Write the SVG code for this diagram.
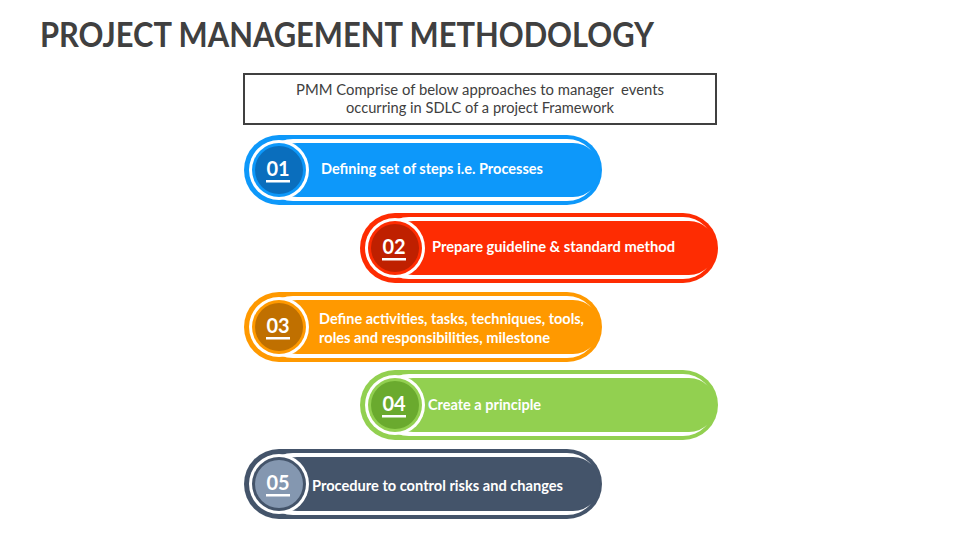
<svg xmlns="http://www.w3.org/2000/svg" width="960" height="540" viewBox="0 0 960 540">
<style>
.title{font-family:Lato,"Open Sans","Liberation Sans",sans-serif;font-weight:700;font-size:35px;fill:#404040}
.intro{font-family:Lato,"Open Sans","Liberation Sans",sans-serif;font-size:14.5px;fill:#404040}
.num{font-family:Lato,"Open Sans","Liberation Sans",sans-serif;font-weight:700;font-size:20px;fill:#fff;text-anchor:middle}
.lbl{font-family:Lato,"Open Sans","Liberation Sans",sans-serif;font-weight:700;font-size:14.5px;fill:#fff}
.w{fill:#fff}
.c1{fill:#0D98FA}.d1{fill:#0A6EBD}
.c2{fill:#FE2C02}.d2{fill:#BF2000}
.c3{fill:#FF9900}.d3{fill:#C07000}
.c4{fill:#92D050}.d4{fill:#6AAA2E}
.c5{fill:#44546A}.d5{fill:#8497B0}
</style>
<rect width="960" height="540" fill="#fff"/>
<text class="title" x="40" y="47" textLength="614" lengthAdjust="spacingAndGlyphs">PROJECT MANAGEMENT METHODOLOGY</text>
<g id="intro">
<rect x="244" y="74" width="472" height="50" fill="#fff" stroke="#404040" stroke-width="2"/>
<text class="intro" x="296" y="95" textLength="368" lengthAdjust="spacingAndGlyphs" xml:space="preserve">PMM Comprise of below approaches to manager  events</text>
<text class="intro" x="346" y="113" textLength="268" lengthAdjust="spacingAndGlyphs">occurring in SDLC of a project Framework</text>
</g>
<g id="connectors"></g>
<g id="step1">
<rect class="c1" x="244" y="135" width="358" height="70" rx="35"/>
<rect class="w" x="262" y="139" width="336" height="62" rx="31"/>
<rect class="c1" x="270" y="143" width="330" height="54" rx="27"/>
<circle class="w" cx="279" cy="170" r="30"/>
<circle class="c1" cx="279" cy="170" r="27"/>
<circle class="d1" cx="279" cy="170" r="24"/>
<text class="num" x="278" y="176">01</text>
<rect class="w" x="266" y="180" width="24" height="2.5"/>
<text class="lbl" x="321" y="174" textLength="222" lengthAdjust="spacingAndGlyphs">Defining set of steps i.e. Processes</text>
</g>
<g id="step2">
<rect class="c2" x="360" y="213" width="358" height="70" rx="35"/>
<rect class="w" x="378" y="217" width="336" height="62" rx="31"/>
<rect class="c2" x="386" y="221" width="330" height="54" rx="27"/>
<circle class="w" cx="395" cy="248" r="30"/>
<circle class="c2" cx="395" cy="248" r="27"/>
<circle class="d2" cx="395" cy="248" r="24"/>
<text class="num" x="394" y="254">02</text>
<rect class="w" x="382" y="258" width="24" height="2.5"/>
<text class="lbl" x="432" y="252" textLength="243" lengthAdjust="spacingAndGlyphs">Prepare guideline &amp; standard method</text>
</g>
<g id="step3">
<rect class="c3" x="244" y="292" width="358" height="70" rx="35"/>
<rect class="w" x="262" y="296" width="336" height="62" rx="31"/>
<rect class="c3" x="270" y="300" width="330" height="54" rx="27"/>
<circle class="w" cx="279" cy="327" r="30"/>
<circle class="c3" cx="279" cy="327" r="27"/>
<circle class="d3" cx="279" cy="327" r="24"/>
<text class="num" x="278" y="333">03</text>
<rect class="w" x="266" y="337" width="24" height="2.5"/>
<text class="lbl" x="319" y="324" textLength="265" lengthAdjust="spacingAndGlyphs">Define activities, tasks, techniques, tools,</text>
<text class="lbl" x="319" y="343" textLength="231" lengthAdjust="spacingAndGlyphs">roles and responsibilities, milestone</text>
</g>
<g id="step4">
<rect class="c4" x="360" y="370" width="358" height="70" rx="35"/>
<rect class="w" x="378" y="374" width="336" height="62" rx="31"/>
<rect class="c4" x="386" y="378" width="330" height="54" rx="27"/>
<circle class="w" cx="395" cy="405" r="30"/>
<circle class="c4" cx="395" cy="405" r="27"/>
<circle class="d4" cx="395" cy="405" r="24"/>
<text class="num" x="394" y="411">04</text>
<rect class="w" x="382" y="415" width="24" height="2.5"/>
<text class="lbl" x="428" y="410" textLength="113" lengthAdjust="spacingAndGlyphs">Create a principle</text>
</g>
<g id="step5">
<rect class="c5" x="244" y="449" width="358" height="70" rx="35"/>
<rect class="w" x="262" y="453" width="336" height="62" rx="31"/>
<rect class="c5" x="270" y="457" width="330" height="54" rx="27"/>
<circle class="w" cx="279" cy="484" r="30"/>
<circle class="c5" cx="279" cy="484" r="27"/>
<circle class="d5" cx="279" cy="484" r="24"/>
<text class="num" x="278" y="490">05</text>
<rect class="w" x="266" y="494" width="24" height="2.5"/>
<text class="lbl" x="312" y="491" textLength="251" lengthAdjust="spacingAndGlyphs">Procedure to control risks and changes</text>
</g>
</svg>
